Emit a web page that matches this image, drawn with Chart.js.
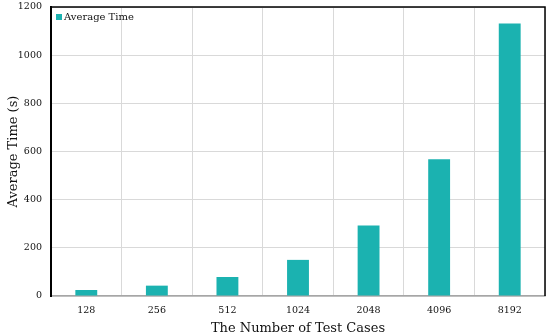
<!DOCTYPE html>
<html>
<head>
<meta charset="utf-8">
<script src="https://cdn.jsdelivr.net/npm/chart.js@4/dist/chart.umd.min.js"></script>
<style>
  html, body { margin: 0; padding: 0; background: #fff; }
  #wrap { width: 550px; height: 336px; }
</style>
</head>
<body>
<div id="wrap"><canvas id="chart" width="550" height="336"></canvas></div>
<script>
const categories = ['128', '256', '512', '1024', '2048', '4096', '8192'];
const avgTime = [25, 43, 79, 150, 293, 568, 1132];
const yTicks = [0, 200, 400, 600, 800, 1000, 1200];

const teal = '#1bb2b0';
const serif = "'DejaVu Serif', serif";

// Legend sits inside the plot, top-left, and the frame is closed on top/right.
const frameAndLegend = {
    id: 'frameAndLegend',
    afterDraw(chart) {
        const { ctx, chartArea: a } = chart;
        ctx.save();
        ctx.strokeStyle = '#000';
        ctx.lineWidth = 1.5;
        ctx.beginPath();
        ctx.moveTo(a.left, a.top);
        ctx.lineTo(a.right, a.top);
        ctx.lineTo(a.right, a.bottom);
        ctx.stroke();

        ctx.fillStyle = teal;
        ctx.fillRect(a.left + 5, a.top + 7, 6, 6);
        ctx.fillStyle = '#111';
        ctx.font = '10px ' + serif;
        ctx.textBaseline = 'middle';
        ctx.fillText(chart.data.datasets[0].label, a.left + 13, a.top + 10);
        ctx.restore();
    },
};

new Chart(document.getElementById('chart'), {
    type: 'bar',
    data: {
        labels: categories,
        datasets: [{
            label: 'Average Time',
            data: avgTime,
            backgroundColor: teal,
            barPercentage: 0.62,
            categoryPercentage: 0.5,
        }],
    },
    options: {
        responsive: false,
        animation: false,
        layout: { padding: { left: 0, right: 5, top: 7, bottom: 0 } },
        plugins: { legend: { display: false }, tooltip: { enabled: false } },
        scales: {
            x: {
                offset: true,
                grid: { offset: true, color: '#d9d9d9', lineWidth: 1, drawTicks: false },
                border: { color: '#a6a6a6', width: 1.5 },
                ticks: { color: '#111', font: { family: serif, size: 9.5 }, padding: 9 },
                title: { display: true, text: 'The Number of Test Cases', color: '#111',
                         font: { family: serif, size: 13 }, padding: { top: 2, bottom: 0 } },
                afterFit(s) { s.height = 40; },
            },
            y: {
                min: 0,
                max: 1200,
                afterBuildTicks(s) { s.ticks = yTicks.map((v) => ({ value: v })); },
                grid: { color: '#d9d9d9', lineWidth: 1, drawTicks: false },
                border: { color: '#000', width: 2 },
                ticks: { color: '#111', font: { family: serif, size: 9.5 }, padding: 9,
                         callback: (v) => String(v) },
                title: { display: true, text: 'Average Time (s)', color: '#111',
                         font: { family: serif, size: 13 }, padding: { top: 6, bottom: 2 } },
                afterFit(s) { s.width = 51; s.paddingTop = 0; },
            },
        },
    },
    plugins: [frameAndLegend],
});
</script>
</body>
</html>
